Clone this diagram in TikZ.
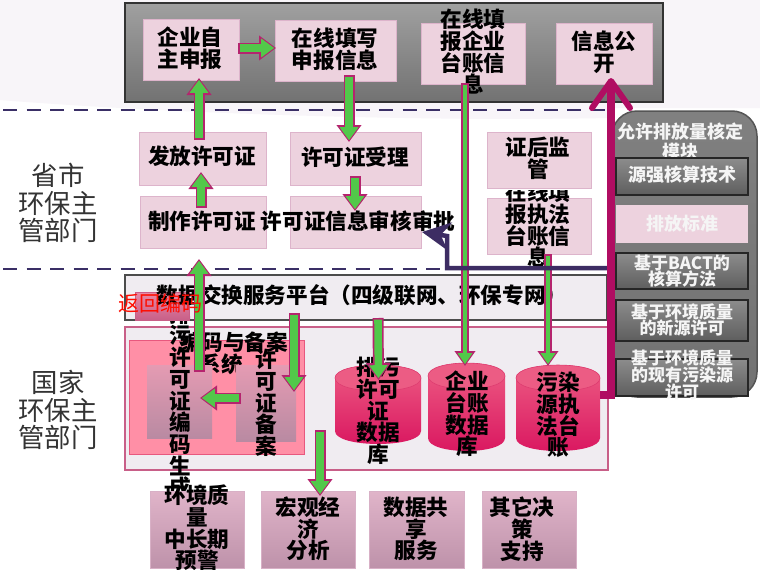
\documentclass[tikz,border=0pt]{standalone}
\usepackage{fontspec}
\setmainfont{Noto Sans CJK SC}
\usetikzlibrary{arrows.meta,calc}
\definecolor{boxpink}{HTML}{EDD2DE}
\definecolor{boxedge}{HTML}{DDB4CB}
\definecolor{arrowedge}{HTML}{B5246E}
\definecolor{arrowgreen}{HTML}{52C84A}
\definecolor{magline}{HTML}{B00D62}
\definecolor{darkviolet}{HTML}{3D2D63}
\definecolor{dashviolet}{HTML}{3A2F66}
\definecolor{panelfill}{HTML}{F0ECF1}
\definecolor{paleback}{HTML}{F8F5F9}
\definecolor{lowtop}{HTML}{E0B4C9}
\definecolor{lowbot}{HTML}{BE92AA}
\definecolor{lowedge}{HTML}{D8B0C6}
\definecolor{graytop}{HTML}{8C8C8C}
\definecolor{graymid}{HTML}{7A7A7A}
\definecolor{graybot}{HTML}{5E5E5E}
\definecolor{dbtop}{HTML}{EE5F85}
\definecolor{dbbot}{HTML}{D9155F}
\definecolor{dbface}{HTML}{EC5C84}
\definecolor{dbedge}{HTML}{DE3C70}
\definecolor{bandtop}{HTML}{A0A0A0}
\definecolor{bandbot}{HTML}{727272}
\definecolor{quotatop}{HTML}{808080}
\definecolor{quotamid}{HTML}{9A9A9A}
\definecolor{quotaedge}{HTML}{555555}
\definecolor{syspink}{HTML}{FF8FA6}
\definecolor{sysedge}{HTML}{E8587E}
\definecolor{subtop}{HTML}{D9A0B8}
\definecolor{subbot}{HTML}{B98AA2}
\definecolor{rettop}{HTML}{E88AA6}
\definecolor{retbot}{HTML}{C85F88}
\tikzset{
  x=1pt,y=-1pt,
  rectbox/.style={inner sep=0pt,outer sep=0pt,rectangle},
  pinkbox/.style={rectbox,fill=boxpink,draw=boxedge,line width=1pt},
  lowbox/.style={rectbox,top color=lowtop,bottom color=lowbot,draw=lowedge,line width=1pt},
  graybox/.style={rectbox,top color=graytop,middle color=graymid,bottom color=graybot,draw=black!85,line width=1.2pt},
  boxlabel/.style={inner sep=0pt,align=center,font=\fontsize{21.6}{21.7}\selectfont\bfseries,text=black},
  whitelabel/.style={inner sep=0pt,align=center,font=\fontsize{17}{16.6}\selectfont\bfseries,text=white!92!gray},
  whitewide/.style={whitelabel,font=\fontsize{18}{20}\selectfont\bfseries},
  sidelabel/.style={inner sep=0pt,align=center,font=\fontsize{26.4}{27.5}\selectfont,text=black!80},
  dashedrule/.style={draw=dashviolet,line width=2.4pt,dash pattern=on 14pt off 9.5pt},
}
% \rbox{style}{name}{x1}{y1}{x2}{y2}
\newcommand{\rbox}[6]{%
  \pgfmathsetmacro{\bw}{#5-#3}\pgfmathsetmacro{\bh}{#6-#4}%
  \node[#1,minimum width=\bw pt,minimum height=\bh pt] (#2) at ({(#3+#5)/2},{(#4+#6)/2}) {};}
% \blockarrow{shaft}{head}{len}{from}{to}
\newcommand{\blockarrow}[5]{%
  \pgfmathsetmacro{\wi}{#1-3.4}\pgfmathsetmacro{\hi}{#2-6}\pgfmathsetmacro{\li}{#3-4}%
  \draw[draw=arrowedge,line width=#1pt,-{Triangle[width=#2pt,length=#3pt]}] #4 -- #5;
  \draw[draw=arrowgreen,line width=\wi pt,shorten >=1.8pt,shorten <=1.6pt,-{Triangle[width=\hi pt,length=\li pt]}] #4 -- #5;}
% \dbase{name}{x1}{ytop}{x2}{ybot}
\newcommand{\dbase}[5]{%
  \pgfmathsetmacro{\ya}{#3+13}\pgfmathsetmacro{\yb}{#5-13}%
  \pgfmathsetmacro{\yc}{#5+4.3}\pgfmathsetmacro{\yd}{#3-4.3}\pgfmathsetmacro{\ye}{#3+30.3}%
  \path[top color=dbtop,bottom color=dbbot] (#2,\ya) -- (#2,\yb) .. controls (#2,\yc) and (#4,\yc) .. (#4,\yb) -- (#4,\ya) .. controls (#4,\yd) and (#2,\yd) .. (#2,\ya) -- cycle;
  \path[fill=dbface,draw=dbedge,line width=.6pt] (#2,\ya) .. controls (#2,\yd) and (#4,\yd) .. (#4,\ya) .. controls (#4,\ye) and (#2,\ye) .. (#2,\ya) -- cycle;
  \rbox{rectbox}{#1}{#2}{#3}{#4}{#5}}
\begin{document}
\begin{tikzpicture}
\useasboundingbox (0,0) rectangle (760,570);
\fill[white] (0,0) rectangle (760,570);
\fill[paleback] (0,0) -- (760,0) -- (760,108) -- (610,108) -- (610,118) .. controls (400,122) and (150,112) .. (0,100) -- cycle;

% dashed rules
\coordinate (ruleAa) at (3,110);\coordinate (ruleAb) at (612,110);
\coordinate (ruleBa) at (3,269);\coordinate (ruleBb) at (447,269);
\draw[dashedrule] (ruleAa) -- (ruleAb);
\draw[dashedrule] (ruleBa) -- (ruleBb);

% side labels
\node[sidelabel] (province) at (58,203) {省市\\环保主\\管部门};
\node[sidelabel] (nation) at (58,410) {国家\\环保主\\管部门};

% top band
\rbox{rectbox,top color=bandtop,bottom color=bandbot,draw=black!80,line width=1.2pt}{topband}{125}{3}{663}{102}
\rbox{pinkbox}{selfdeclare}{143}{19}{239}{80}
\rbox{pinkbox}{onlinefill}{275}{20}{396}{81}
\rbox{pinkbox}{ledgerfill}{421}{23}{525}{84}
\rbox{pinkbox}{disclose}{556}{23}{652}{84}
\node[boxlabel] (selfdeclaretext) at (190,48) {企业自\\主申报};
\node[boxlabel] (onlinefilltext) at (335,49) {在线填写\\申报信息};
\node[boxlabel] (ledgerfilltext) at (473,52) {在线填\\报企业\\台账信\\息};
\node[boxlabel] (disclosetext) at (604,52) {信息公\\开};

% provincial boxes
\rbox{pinkbox}{issue}{139}{132}{266}{185}
\rbox{pinkbox}{make}{140}{196}{266}{248}
\rbox{pinkbox}{accept}{290}{132}{421}{185}
\rbox{pinkbox}{review}{290}{196}{421}{248}
\rbox{pinkbox}{supervise}{487}{132}{591}{188}
\rbox{pinkbox}{lawfill}{487}{198}{591}{254}
\node[boxlabel] (issuetext) at (202,156) {发放许可证};
\node[boxlabel] (maketext) at (202,221) {制作许可证};
\node[boxlabel] (accepttext) at (355,157) {许可证受理};
\node[boxlabel] (reviewtext) at (358,221) {许可证信息审核审批};
\node[boxlabel] (supervisetext) at (538,158) {证后监\\管};
\begin{scope}
\clip (470,190) rectangle (610,270);
\node[boxlabel] (lawfilltext) at (538,225) {在线填\\报执法\\台账信\\息};
\end{scope}

% exchange platform
\rbox{rectbox,fill=panelfill,draw=black!70,line width=1.2pt}{platform}{125}{275}{607}{320}
% national panel
\rbox{rectbox,fill=panelfill,draw=retbot,line width=1.2pt}{natpanel}{125}{327}{608}{470}
\rbox{rectbox,fill=syspink,draw=sysedge,line width=1pt}{codesys}{129}{340}{304}{454}
\node[boxlabel] (codesystext) at (234,353) {编码与备案\\系统\hspace*{26pt}};
\rbox{rectbox,top color=subtop!70!syspink,bottom color=subbot}{codegen}{147}{365}{212}{438}
\rbox{rectbox,top color=subtop!70!syspink,bottom color=subbot}{filing}{236}{365}{296}{441}
\node[boxlabel] (codegentext) at (180,401) {排\\污\\许\\可\\证\\编\\码\\生\\成};
\node[boxlabel] (filingtext) at (266,403) {许\\可\\证\\备\\案};

% return code box and platform title
\rbox{rectbox,top color=rettop,bottom color=retbot,draw=retbot,line width=.8pt}{returnbox}{135}{292}{189}{320}
\node[boxlabel] (platformtext) at (362,295) {数据交换服务平台（四级联网、环保专网）};

% databases
\dbase{db1}{335}{365}{421}{444}
\dbase{db2}{428}{363}{505}{451}
\dbase{db3}{516}{365}{600}{451}
\node[boxlabel] (db1text) at (378,411) {排污\\许可\\证\\数据\\库};
\node[boxlabel] (db2text) at (467,414) {企业\\台账\\数据\\库};
\node[boxlabel] (db3text) at (558,415) {污染\\源执\\法台\\账};

% decision boxes
\rbox{lowbox}{out1}{150}{491}{244}{568}
\rbox{lowbox}{out2}{261}{491}{355}{568}
\rbox{lowbox}{out3}{369}{491}{464}{568}
\rbox{lowbox}{out4}{482}{491}{576}{568}
\node[boxlabel] (out1text) at (197,528) {环境质\\量\\中长期\\预警};
\node[boxlabel] (out2text) at (308,529) {宏观经\\济\\分析};
\node[boxlabel] (out3text) at (416,529) {数据共\\享\\服务};
\node[boxlabel] (out4text) at (522,529) {其它决\\策\\支持};

% quota panel
\rbox{rectbox,top color=quotatop,middle color=quotamid,bottom color=bandbot,draw=quotaedge,line width=1.5pt,rounded corners=25pt}{quota}{612}{111}{757}{397}
\node[whitewide] (quotatext) at (680,142) {允许排放量核定\\模块};
\rbox{graybox}{q1}{616}{158}{748}{195}
\rbox{pinkbox,draw=none}{q2}{616}{205}{748}{243}
\rbox{graybox}{q3}{616}{253}{748}{289}
\rbox{graybox}{q4}{616}{300}{748}{341}
\rbox{graybox}{q5}{616}{359}{748}{396}
\node[whitewide] (q1text) at (682,175) {源强核算技术};
\node[whitewide] (q2text) at (682,224) {排放标准};
\node[whitelabel] (q3text) at (682,271) {基于BACT的\\核算方法};
\node[whitelabel] (q4text) at (682,320) {基于环境质量\\的新源许可};
\node[whitelabel] (q5text) at (682,375) {基于环境质量\\的现有污染源\\许可};

% green arrows
\blockarrow{11}{24}{17}{([shift={(-1,-1.5)}]selfdeclare.east)}{([shift={(1,-2.5)}]onlinefill.west)}
\blockarrow{11}{24}{17}{([shift={(-3.5,8)}]issue.north)}{([shift={(8,-2)}]selfdeclare.south)}
\blockarrow{11}{24}{17}{([shift={(13.5,-6)}]onlinefill.south)}{([shift={(-6.5,10)}]accept.north)}
\blockarrow{11}{24}{17}{([shift={(-2,12)}]make.north)}{([shift={(-1.5,-13)}]issue.south)}
\blockarrow{11}{24}{17}{([shift={(-.5,-9)}]accept.south)}{([shift={(-.5,15)}]review.north)}
\blockarrow{8}{20}{15}{([shift={(-8,-1)}]ledgerfill.south)}{([shift={(-1.5,3)}]db2.north)}
\blockarrow{8}{20}{15}{([shift={(9,0)}]lawfill.south)}{([shift={(-10,1)}]db3.north)}
\blockarrow{11}{24}{17}{([shift={(19.5,7)}]codegen.north)}{([shift={(-4,11)}]make.south)}
\blockarrow{11}{24}{17}{([shift={(-72,-7)}]platform.south)}{([shift={(28,27)}]filing.north)}
\blockarrow{11}{24}{17}{([shift={(5,-5)}]filing.west)}{([shift={(-12,-3.5)}]codegen.east)}
\blockarrow{11}{24}{17}{([shift={(12,-2)}]platform.south)}{([shift={(.5,15)}]db1.north)}
\blockarrow{11}{24}{17}{([shift={(-46.5,-40)}]natpanel.south)}{([shift={(12,5)}]out2.north)}

% return code label above the arrow
\node[boxlabel,font=\fontsize{21}{21}\selectfont,text=red!90!orange] (returntext) at (160.5,303) {返回编码};

% violet and magenta connectors
\coordinate (violetbend) at (447,236);
\draw[draw=darkviolet,line width=4.5pt,-{Stealth[length=28pt,width=28pt]}] ([shift={(-4,14)}]quota.west) -| (violetbend) -- ([shift={(1,10)}]review.east);
\draw[draw=magline,line width=8pt,-{Straight Barb[length=27pt,width=38pt,line width=6pt,round]}] ([shift={(0,-13)}]db3.east) -| ([shift={(7,-6)}]disclose.south);
\end{tikzpicture}
\end{document}
